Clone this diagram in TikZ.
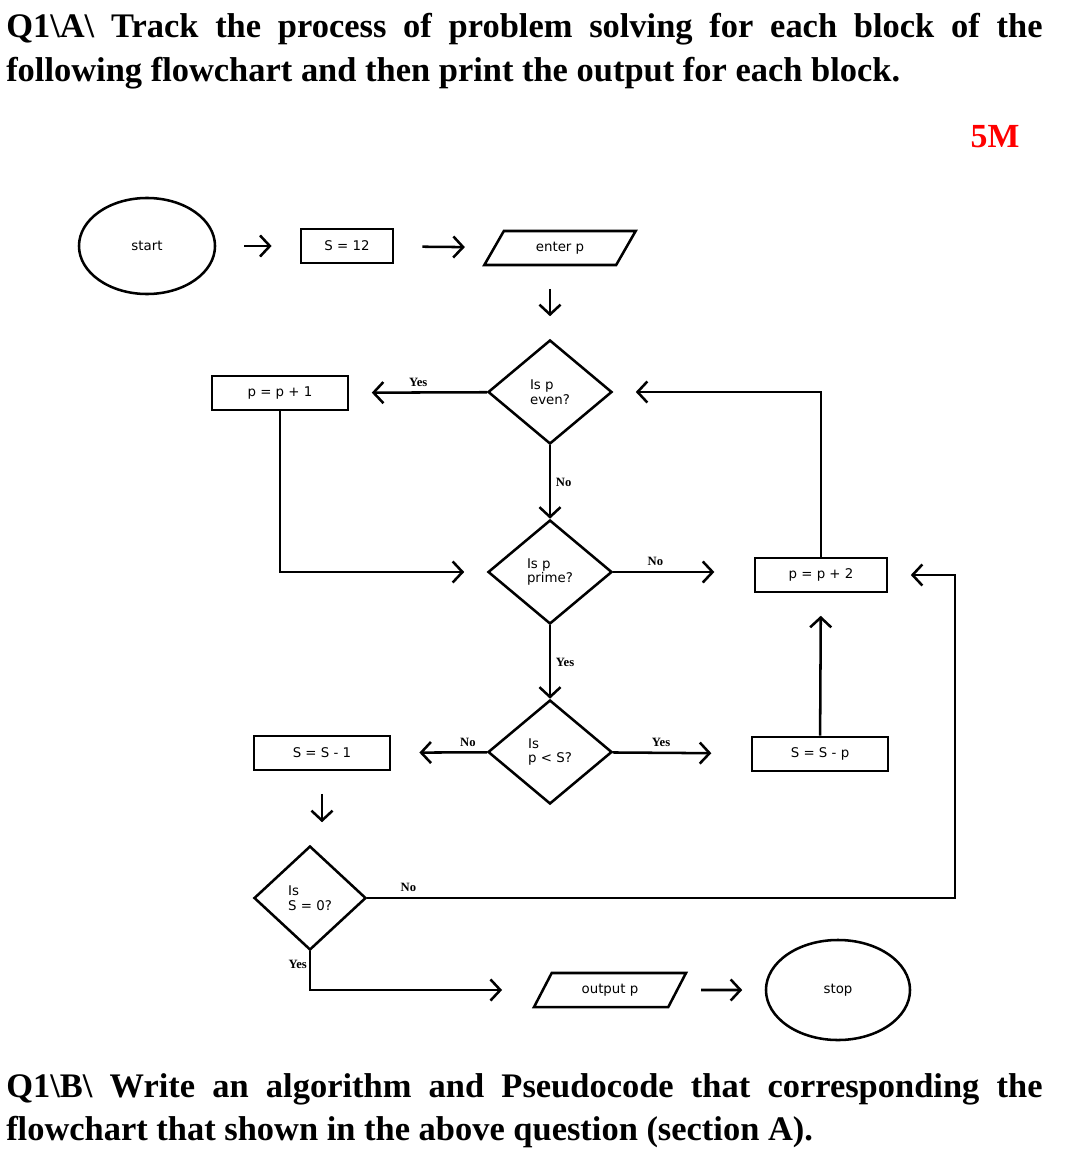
\documentclass[tikz,border=0pt]{standalone}
\usepackage{fontspec}
\setmainfont{Liberation Serif}
\newfontfamily\chartfont{DejaVu Sans}
\usepackage{tikz}
\usetikzlibrary{arrows.meta,positioning,shapes.geometric,calc}

\begin{document}
\begin{tikzpicture}[
      x=0.025cm, y=-0.025cm,
      line width=1.8pt,
      every node/.style={font=\chartfont\fontsize{9.5}{10.5}\selectfont},
      term/.style={draw,ellipse,minimum width=3.4cm,minimum height=2.4cm},
      proc/.style={draw,rectangle,minimum height=0.85cm,inner sep=2pt},
      io/.style={draw,trapezium,trapezium left angle=65,trapezium right angle=115,
                 trapezium stretches=true,minimum width=3.8cm,minimum height=0.85cm},
      test/.style={draw,diamond,minimum width=3.1cm,minimum height=2.6cm,
                   align=left,inner sep=0pt},
      ans/.style={font=\rmfamily\bfseries\fontsize{9}{10}\selectfont},
      question/.style={anchor=north west,text width=25.9cm,align=justify,inner sep=0pt,
                       font=\rmfamily\bfseries\fontsize{24.5}{31}\selectfont},
      >={Straight Barb[length=7pt,width=15pt]}
    ]
    \useasboundingbox (0,0) rectangle (1080,1169);

    % question text
    \node[question] (qa) at (5,12)
      {Q1\textbackslash A\textbackslash{} Track the process of problem solving for each block of the\linebreak following flowchart and then print the output for each block.};
    \node[font=\rmfamily\bfseries\fontsize{24}{26}\selectfont,text=red] (mark) at (995,137) {5M};
    \node[question] (qb) at (5,1072)
      {Q1\textbackslash B\textbackslash{} Write an algorithm and Pseudocode that corresponding the\linebreak flowchart that shown in the above question (section A).};

    % blocks
    \node[term] (start) at (147,246) {start};
    \node[proc,minimum width=2.3cm] (init) at (347,246) {S = 12};
    \node[io] (enter) at (560,248) {enter p};
    \node[test] (even) at (550,392) {Is p\\even?};
    \node[proc,minimum width=3.4cm] (inc1) at (280,393) {p = p + 1};
    \node[test] (prime) at (550,572) {Is p\\prime?};
    \node[proc,minimum width=3.3cm] (inc2) at (821,575) {p = p + 2};
    \node[test] (less) at (550,752) {Is\\p < S?};
    \node[proc,minimum width=3.4cm] (dec1) at (322,753) {S = S - 1};
    \node[proc,minimum width=3.4cm] (decp) at (820,754) {S = S - p};
    \node[test,minimum width=2.8cm] (zero) at (310,898) {Is\\S = 0?};
    \node[io] (out) at (610,990) {output p};
    \node[term,minimum width=3.6cm,minimum height=2.5cm] (stop) at (838,990) {stop};

    % the arrows
    \draw[->,shorten <=20pt,shorten >=20pt] (start) -- (init);
    \draw[->,shorten <=20pt,shorten >=20pt] (init) -- (enter);
    \draw[->,shorten <=16pt,shorten >=16pt] (even.north |- enter.south) -- (even);
    \draw[->,shorten >=16pt] (even) -- node[ans,above]{Yes} (inc1);
    \draw[->] (even) -- node[ans,right]{No} (prime);
    \draw[->,shorten >=16pt] (inc1) |- (prime);
    \draw[->,shorten >=16pt] (inc2.north) |- (even);
    \draw[->,shorten >=28pt] (prime) -- node[ans,above,pos=0.3]{No} (inc2.west |- prime);
    \draw[->] (prime) -- node[ans,right]{Yes} (less);
    \draw[->,shorten >=20pt] (less) -- node[ans,above,pos=0.2]{No} (dec1);
    \draw[->,shorten >=28pt] (less) -- node[ans,above,pos=0.35]{Yes} (decp);
    \draw[->,shorten >=16pt] (decp) -- (inc2);
    \draw[->,shorten <=16pt,shorten >=16pt] (dec1) -- (dec1 |- zero.north);
    \coordinate (loop) at (955,898);
    \draw[->,shorten >=16pt] (zero.east) -- node[ans,above,pos=0.07]{No} (loop) |- (inc2);
    \draw[->,shorten >=28pt] (zero.south) node[ans,below left=2pt and -2pt]{Yes} |- (out);
    \draw[->,shorten <=16pt,shorten >=16pt] (out) -- (stop);
\end{tikzpicture}
\end{document}
